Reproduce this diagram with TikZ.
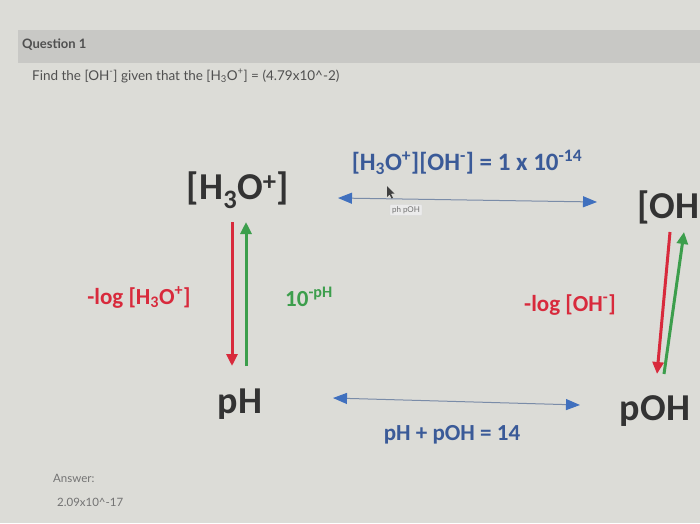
\documentclass[tikz,border=0pt]{standalone}
\usepackage{fontspec}
\setmainfont{Carlito}
\newfontfamily\uifont{Lato}
\usetikzlibrary{arrows.meta}
\definecolor{bg}{HTML}{DCDCD7}
\definecolor{barc}{HTML}{C8C8C5}
\definecolor{darktxt}{HTML}{333333}
\definecolor{uitxt}{HTML}{505050}
\definecolor{bluetxt}{HTML}{3A5A98}
\definecolor{bluetip}{HTML}{4070BE}
\definecolor{blueline}{HTML}{7A8CA8}
\definecolor{redc}{HTML}{D82A3C}
\definecolor{greenc}{HTML}{3C9E4C}
\newcommand{\sbx}[1]{\textsubscript{#1}}
\newcommand{\spx}[1]{\textsuperscript{#1}}
\tikzset{
  big/.style={font=\fontsize{38}{40}\selectfont\bfseries, text=darktxt, inner sep=0pt},
  mid/.style={font=\fontsize{23}{25}\selectfont\bfseries, inner sep=0pt},
  ui/.style={font=\uifont\fontsize{13.5}{15}\selectfont, text=uitxt, inner sep=0pt, anchor=west},
  bluearrow/.style={draw=blueline, line width=1pt,
     {Triangle[length=14pt,width=11pt,color=bluetip]}-{Triangle[length=14pt,width=11pt,color=bluetip]}},
  redarrow/.style={draw=redc, line width=3pt, -{Triangle[length=12pt,width=11pt]}},
  greenarrow/.style={draw=greenc, line width=3pt, -{Triangle[length=12pt,width=11pt]}}
}
\begin{document}
\begin{tikzpicture}[x=1pt,y=-1pt]
\useasboundingbox (0,0) rectangle (700,523);
\fill[bg] (0,0) rectangle (700,523);
\fill[barc] (18,30) rectangle (700,63);
% header texts
\node[ui, font=\uifont\bfseries\fontsize{13}{15}\selectfont] (q) at (22,45) {Question 1};
\node[ui] (find) at (32,76) {Find the [OH\spx{-}] given that the [H\sbx{3}O\spx{+}] = (4.79x10\^{}-2)};
% main nodes
\node[big] (h3o) at (238,190) {[H\sbx{3}O\spx{+}]};
\node[big, anchor=west] (oh) at (637,207) {[OH};
\node[big] (ph) at (240,404) {pH};
\node[big] (poh) at (655,411) {pOH};
% formulas
\node[mid, text=bluetxt, font=\fontsize{25}{27}\selectfont\bfseries] (kw) at (467,162) {[H\sbx{3}O\spx{+}][OH\spx{-}] = 1 x 10\spx{-14}};
\node[mid, text=bluetxt] (sum) at (452,435) {pH + pOH = 14};
\node[mid, text=redc] (logh) at (139,297) {-log [H\sbx{3}O\spx{+}]};
\node[mid, text=greenc] (tenph) at (309,297) {10\spx{-pH}};
\node[mid, text=redc] (logoh) at (570,305) {-log [OH\spx{-}]};
% arrow ends
\coordinate (t1) at (338,198);
\coordinate (t2) at (597,202);
\coordinate (b1) at (333,398);
\coordinate (b2) at (580,405);
\coordinate (lr1) at (232,222);
\coordinate (lr2) at (232,366);
\coordinate (lg1) at (246,366);
\coordinate (lg2) at (246,222);
\coordinate (rr1) at (670,232);
\coordinate (rr2) at (657,374);
\coordinate (rg1) at (664,374);
\coordinate (rg2) at (684,232);
\draw[bluearrow] (t1) -- (t2);
\draw[bluearrow] (b1) -- (b2);
\draw[redarrow] (lr1) -- (lr2);
\draw[greenarrow] (lg1) -- (lg2);
\draw[redarrow] (rr1) -- (rr2);
\draw[greenarrow] (rg1) -- (rg2);
% tooltip and cursor
\node[fill=black!8, draw=black!15, rounded corners=1pt, inner sep=2pt, text=black!55,
      font=\uifont\fontsize{8}{9}\selectfont] (tip) at (406,210) {ph pOH};
\fill[black!75] (387,186) -- (387,197) -- (389.5,194.5) -- (391.5,198.5) -- (393,197.8) -- (391,193.8) -- (394.5,193.5) -- cycle;
% answer
\node[ui, font=\uifont\fontsize{11.5}{13}\selectfont, text=black!55] (ans) at (53,478) {Answer:};
\node[ui, font=\uifont\fontsize{11.5}{13}\selectfont, text=black!55] (val) at (57,502) {2.09x10\^{}-17};
\end{tikzpicture}
\end{document}
